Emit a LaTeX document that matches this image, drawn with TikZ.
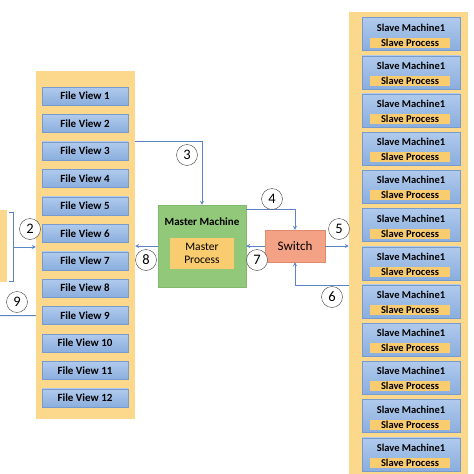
\documentclass[tikz,border=0pt]{standalone}
\usepackage{fontspec}
\setmainfont{Carlito}
\usetikzlibrary{positioning}
\definecolor{colyellow}{RGB}{252,216,140}
\definecolor{procyellow}{RGB}{250,204,112}
\definecolor{fvtop}{RGB}{176,202,236}
\definecolor{fvbot}{RGB}{138,174,222}
\definecolor{fvline}{RGB}{120,155,205}
\definecolor{mgreen}{RGB}{146,200,122}
\definecolor{mgreenline}{RGB}{130,185,108}
\definecolor{swred}{RGB}{244,162,134}
\definecolor{swline}{RGB}{226,138,110}
\definecolor{linkblue}{RGB}{92,132,194}
\begin{document}
\begin{tikzpicture}[x=1pt,y=-1pt,
    column/.style={rectangle, fill=colyellow, inner sep=0pt},
    fileview/.style={rectangle, draw=fvline, top color=fvtop, bottom color=fvbot,
        minimum width=86pt, minimum height=18pt, inner sep=0pt,
        font=\bfseries\fontsize{11}{12}\selectfont},
    slavebox/.style={rectangle, draw=fvline, top color=fvtop, bottom color=fvbot,
        minimum width=98pt, minimum height=33pt, inner sep=0pt},
    slaveproc/.style={rectangle, fill=procyellow, minimum width=80pt, minimum height=10pt,
        inner sep=0pt, font=\bfseries\fontsize{10.5}{12}\selectfont},
    num/.style={circle, draw=black!75, fill=white, minimum size=21pt, inner sep=0pt,
        font=\fontsize{14.5}{15}\selectfont},
    link/.style={draw=linkblue, line width=0.8pt}]
    \useasboundingbox (0,0) rectangle (474,474);

    % the two columns
    \node[column, minimum width=7pt, minimum height=72pt] (outside) at (3.5,246) {};
    \node[column, minimum width=99pt, minimum height=348pt] (files) at (85.5,245) {};
    \node[column, minimum width=119pt, minimum height=462pt] (slaves) at (408.5,243) {};

    \foreach \i in {1,...,12}
        \node[fileview] (fv\i) at (85,{96+27.45*(\i-1)}) {File View \i};

    \foreach \i in {0,...,11} {
        \node[slavebox] (sm\i) at (411,{34+38.2*\i}) {};
        \node[font=\bfseries\fontsize{10.5}{12}\selectfont, inner sep=0pt] (smtitle\i)
            at (411,{27.5+38.2*\i}) {Slave Machine1};
        \node[slaveproc] (smproc\i) at (410,{42.5+38.2*\i}) {Slave Process};
    }

    % master and switch
    \node[rectangle, fill=mgreen, draw=mgreenline, minimum width=88pt, minimum height=82pt] (master) at (202,246) {};
    \node[font=\bfseries\fontsize{11}{12}\selectfont, inner sep=0pt] (mastertitle) at (202,222) {Master Machine};
    \node[rectangle, fill=procyellow, minimum width=64pt, minimum height=31pt, inner sep=0pt, align=center,
        font=\fontsize{11.5}{13}\selectfont] (mproc) at (202,253.5) {Master\\Process};
    \node[rectangle, fill=swred, draw=swline, minimum width=60pt, minimum height=32pt,
        font=\fontsize{13}{14}\selectfont] (switch) at (295,246) {Switch};

    % connectors
    \coordinate (brk) at (13,247);
    \coordinate (in6) at (349,285);
    \coordinate (out9) at (0,315.6);
    \draw[link] (9,212) -- (13,212) -- (13,281) -- (9,281);
    \draw[link,-stealth] (brk) -- (brk -| files.west);
    \draw[link,-stealth] (fv3.north -| files.east) -| (master.north);
    \draw[link,-stealth] ([yshift=-5pt]master.north east) -| (switch.north);
    \draw[link,-stealth] (switch.east) -- (switch.east -| slaves.west);
    \draw[link,-stealth] (in6) -| (switch.south);
    \draw[link,-stealth] (switch.west) -- (switch.west -| master.east);
    \draw[link,-stealth] (master.west) -- (master.west -| files.east);
    \draw[link] (fv9.west -| files.west) -- (out9);

    % step numbers
    \node[num] (n2) at (30,229) {2};
    \node[num] (n3) at (187,155) {3};
    \node[num] (n4) at (272,199) {4};
    \node[num] (n5) at (339,229) {5};
    \node[num] (n6) at (332,297) {6};
    \node[num] (n7) at (257,260) {7};
    \node[num] (n8) at (146,260) {8};
    \node[num] (n9) at (17,302) {9};
\end{tikzpicture}
\end{document}
